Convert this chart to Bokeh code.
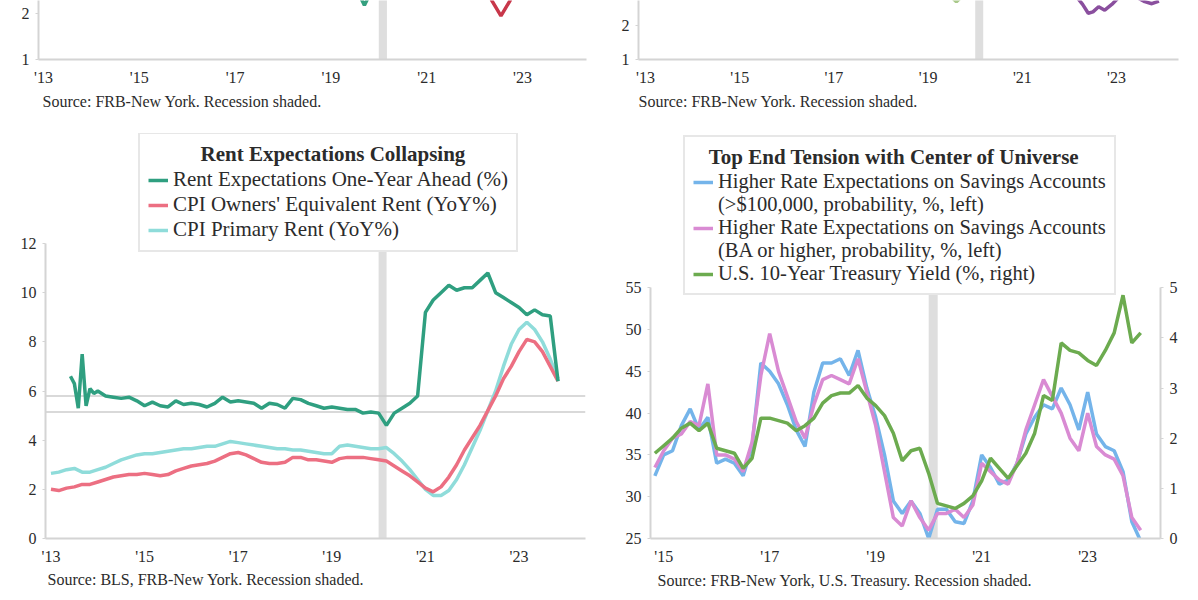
import numpy as np
from bokeh.plotting import figure
from bokeh.models import Range1d, FixedTicker, LinearAxis, Legend, LegendItem, Title
from bokeh.layouts import column, row
from bokeh.embed import file_html
from bokeh.resources import INLINE

FONT = "Liberation Serif"
TXT = "#2b2b2b"
AXC = "#d4d4d4"
REC = "#dedede"
NB = "\u00a0"

# ---------------- shared axis data ----------------
year_ticks = [2013, 2015, 2017, 2019, 2021, 2023]
year_labels = ["'13", "'15", "'17", "'19", "'21", "'23"]
br_year_ticks = [2015, 2017, 2019, 2021, 2023]
br_year_labels = ["'15", "'17", "'19", "'21", "'23"]
recession_start = [2020.0]
recession_end = [2020.17]

# ---------------- top-left (cut off panel) ----------------
tl_red_x = [2022.25, 2022.36, 2022.55, 2022.74, 2022.85]
tl_red_y = [2.60, 2.28, 1.95, 2.28, 2.60]
tl_green_x = [2019.55, 2019.70, 2019.85]
tl_green_y = [2.50, 2.18, 2.50]
tl_y_ticks = [1, 2]

# ---------------- top-right (cut off panel) ----------------
tr_purple_x = [2021.95, 2022.15, 2022.28, 2022.40, 2022.50, 2022.62, 2022.75, 2022.90,
               2023.10, 2023.40, 2023.60, 2023.75, 2023.90]
tr_purple_y = [3.00, 2.85, 2.62, 2.36, 2.40, 2.55, 2.45, 2.62,
               2.90, 2.85, 2.70, 2.64, 2.72]
tr_green_x = [2019.45, 2019.60, 2019.75]
tr_green_y = [2.90, 2.70, 2.90]
tr_y_ticks = [1, 2]

# ---------------- bottom-left: Rent Expectations Collapsing ----------------
cpi_dates = 2013 + np.arange(66) / 6.0
cpi_oer = [2.0, 1.95, 2.05, 2.1, 2.2, 2.2,
           2.3, 2.4, 2.5, 2.55, 2.6, 2.6,
           2.65, 2.6, 2.55, 2.6, 2.75, 2.85,
           2.95, 3.0, 3.05, 3.15, 3.3, 3.45,
           3.5, 3.4, 3.25, 3.1, 3.05, 3.05,
           3.1, 3.3, 3.3, 3.2, 3.2, 3.15,
           3.1, 3.25, 3.3, 3.3, 3.3, 3.25,
           3.2, 3.15, 2.95, 2.75, 2.55, 2.3,
           2.05, 1.9, 2.1, 2.5, 3.0, 3.6,
           4.1, 4.6, 5.2, 5.8, 6.5, 7.0,
           7.6, 8.1, 8.0, 7.6, 7.0, 6.4]
cpi_primary_rent = [2.65, 2.7, 2.8, 2.85, 2.7, 2.7,
                    2.8, 2.9, 3.05, 3.2, 3.3, 3.4,
                    3.45, 3.45, 3.5, 3.55, 3.6, 3.65,
                    3.65, 3.7, 3.75, 3.75, 3.85, 3.95,
                    3.9, 3.85, 3.8, 3.75, 3.7, 3.65,
                    3.65, 3.6, 3.6, 3.55, 3.5, 3.45,
                    3.45, 3.75, 3.8, 3.75, 3.7, 3.65,
                    3.65, 3.7, 3.45, 3.15, 2.8, 2.4,
                    2.0, 1.75, 1.75, 1.95, 2.4, 3.0,
                    3.7, 4.4, 5.2, 6.0, 7.0, 7.9,
                    8.5, 8.8, 8.5, 8.0, 7.3, 6.5]
rent_exp_dates = np.concatenate([2013 + np.arange(5, 13) / 12.0,
                                 2014 + np.arange(1, 60) / 6.0])
rent_exp = [6.6, 6.3, 5.3, 7.5, 5.4, 6.1, 5.9, 6.0,
            5.8, 5.75, 5.7, 5.75, 5.6,
            5.4, 5.55, 5.4, 5.35, 5.6, 5.45,
            5.5, 5.45, 5.35, 5.5, 5.75, 5.55,
            5.6, 5.55, 5.5, 5.3, 5.5, 5.45,
            5.3, 5.7, 5.65, 5.5, 5.4, 5.3,
            5.35, 5.3, 5.25, 5.25, 5.1, 5.15,
            5.1, 4.6, 5.1, 5.3, 5.5, 5.8,
            9.2, 9.7, 10.0, 10.3, 10.1, 10.2,
            10.2, 10.5, 10.8, 10.0, 9.8, 9.6,
            9.4, 9.1, 9.3, 9.1, 9.05, 6.4]
rent_ref_levels = [5.8, 5.15]
bl_y_ticks = [0, 2, 4, 6, 8, 10, 12]

# ---------------- bottom-right: Top End Tension ----------------
br_dates = 2014 + 5 / 6.0 + np.arange(56) / 6.0
savings_100k = [32.5,
                35, 35.5, 38.5, 40.5, 38, 39.5,
                34, 34.5, 34, 32.5, 36, 46,
                45, 43.5, 41, 38, 36, 42.5,
                46, 46, 46.5, 44.5, 47.5, 43,
                39.5, 35, 29.5, 28, 29.5, 28,
                25, 28.5, 28.5, 27, 26.8, 29.5,
                35, 33.5, 31.5, 32, 34, 37.5,
                39.5, 41, 40.5, 43, 41, 38,
                42.5, 37.5, 36, 35.5, 33, 27,
                24.7]
savings_ba = [33.5,
              35.5, 37, 37.5, 39, 38.5, 43.5,
              35, 35, 34.5, 33, 36.5, 44.5,
              49.5, 45, 42, 39, 37, 41,
              44, 44.5, 44, 43.5, 46.5, 42.5,
              38.5, 33, 27.5, 26.5, 29.5, 27.5,
              26, 28, 28, 28.5, 27.5, 29,
              34, 33, 32, 31.5, 34, 38,
              41, 44, 42, 40, 37, 35.5,
              40, 36, 35, 34.5, 32.5, 27.5,
              26]
treasury_10y = [1.7,
                1.85, 2.0, 2.2, 2.3, 2.15, 2.3,
                1.8, 1.75, 1.7, 1.4, 1.6, 2.4,
                2.4, 2.35, 2.3, 2.15, 2.25, 2.4,
                2.7, 2.85, 2.9, 2.9, 3.05, 2.8,
                2.65, 2.45, 2.1, 1.55, 1.75, 1.8,
                1.3, 0.7, 0.65, 0.6, 0.7, 0.85,
                1.15, 1.6, 1.4, 1.2, 1.45, 1.7,
                2.1, 2.85, 2.75, 3.9, 3.75, 3.7,
                3.55, 3.45, 3.75, 4.1, 4.85, 3.9,
                4.1]
br_left_ticks = [25, 30, 35, 40, 45, 50, 55]
br_right_ticks = [0, 1, 2, 3, 4, 5]


def base_fig(width, height, xr, yr, borders):
    left, right, top, bottom = borders
    p = figure(width=width, height=height, x_range=Range1d(*xr), y_range=Range1d(*yr),
               output_backend="svg", toolbar_location=None,
               min_border_left=left, min_border_right=right,
               min_border_top=top, min_border_bottom=bottom)
    p.outline_line_color = None
    p.xgrid.visible = False
    p.ygrid.visible = False
    p.background_fill_color = "white"
    p.border_fill_color = "white"
    return p


def style_axis(ax, is_x):
    ax.axis_line_color = AXC
    ax.axis_line_width = 2
    ax.minor_tick_line_color = None
    ax.major_label_text_font = FONT
    ax.major_label_text_font_size = "16px"
    ax.major_label_text_color = TXT
    if is_x:
        ax.major_tick_line_color = None
        ax.major_tick_out = 0
        ax.major_tick_in = 0
        ax.major_label_standoff = 9
    else:
        ax.major_tick_line_color = AXC
        ax.major_tick_line_width = 1
        ax.major_tick_out = 3
        ax.major_tick_in = 0
        ax.major_label_standoff = 6


def source_title(p, offset, text, standoff=4):
    p.add_layout(Title(text=text, align="left", offset=offset, standoff=standoff,
                       text_font=FONT, text_font_size="16px", text_font_style="normal",
                       text_color=TXT), "below")


def make_legend(p, items, loc, title, label_size):
    lg = Legend(items=items, location=loc, title=title,
                label_text_font=FONT, label_text_font_size=label_size, label_text_color=TXT,
                title_text_font=FONT, title_text_font_size="21px", title_text_font_style="bold",
                title_text_color=TXT,
                glyph_width=20, glyph_height=20, label_standoff=5, padding=8, spacing=0,
                margin=0, title_standoff=0, border_line_color="#cfcfcf", border_line_width=2,
                background_fill_color="white", background_fill_alpha=1.0)
    p.add_layout(lg, "center")


# ---------------- top-left ----------------
tl = base_fig(600, 118, (2012.896, 2024.336), (1, 2.283), (38, 14, 0, 59))
tl.quad(left=recession_start, right=recession_end, bottom=0, top=100, color=REC, line_color=None)
tl.line(tl_green_x, tl_green_y, line_color="#34a07f", line_width=3.5)
tl.line(tl_red_x, tl_red_y, line_color="#c8374a", line_width=3.5)
style_axis(tl.xaxis[0], True)
style_axis(tl.yaxis[0], False)
tl.xaxis.ticker = FixedTicker(ticks=year_ticks)
tl.xaxis.major_label_overrides = dict(zip(year_ticks, year_labels))
tl.yaxis.ticker = FixedTicker(ticks=tl_y_ticks)
source_title(tl, 4, "Source: FRB-New York. Recession shaded.")

# ---------------- top-right ----------------
tr = base_fig(598, 118, (2012.851, 2024.316), (1, 2.735), (38, 20, 0, 59))
tr.quad(left=recession_start, right=recession_end, bottom=0, top=100, color=REC, line_color=None)
tr.line(tr_green_x, tr_green_y, line_color="#a9c98a", line_width=3.5)
tr.line(tr_purple_x, tr_purple_y, line_color="#8a4f9e", line_width=3.5)
style_axis(tr.xaxis[0], True)
style_axis(tr.yaxis[0], False)
tr.xaxis.ticker = FixedTicker(ticks=year_ticks)
tr.xaxis.major_label_overrides = dict(zip(year_ticks, year_labels))
tr.yaxis.ticker = FixedTicker(ticks=tr_y_ticks)
source_title(tr, 0, "Source: FRB-New York. Recession shaded.")

# ---------------- bottom-left ----------------
bl = base_fig(600, 482, (2012.883, 2024.42), (0, 16.475), (45, 15, 15, 62))
bl.quad(left=recession_start, right=recession_end, bottom=0, top=12, color=REC, line_color=None)
for lvl in rent_ref_levels:
    bl.line([2012.883, 2024.42], [lvl, lvl], line_color="#cdcdcd", line_width=1.5)
r_prim = bl.line(cpi_dates, cpi_primary_rent, line_color="#8fdcda", line_width=3.5)
r_oer = bl.line(cpi_dates, cpi_oer, line_color="#ec6f82", line_width=3.5)
r_rent = bl.line(rent_exp_dates, rent_exp, line_color="#2f9f80", line_width=3.5)
style_axis(bl.xaxis[0], True)
style_axis(bl.yaxis[0], False)
bl.xaxis.ticker = FixedTicker(ticks=year_ticks)
bl.xaxis.major_label_overrides = dict(zip(year_ticks, year_labels))
bl.yaxis.ticker = FixedTicker(ticks=bl_y_ticks)
bl.yaxis.bounds = (0, 12)
make_legend(bl, [LegendItem(label="Rent Expectations One-Year Ahead (%)", renderers=[r_rent]),
                 LegendItem(label="CPI Owners' Equivalent Rent (YoY%)", renderers=[r_oer]),
                 LegendItem(label="CPI Primary Rent (YoY%)", renderers=[r_prim])],
            (93, 286), NB * 10 + "Rent Expectations Collapsing", "21px")
source_title(bl, 2, "Source: BLS, FRB-New York. Recession shaded.", standoff=2)

# ---------------- bottom-right ----------------
br = base_fig(598, 482, (2014.751, 2024.374), (25, 73.45), (50, 38, 15, 60))
br.extra_y_ranges = {"yld": Range1d(0, 8.075)}
br.quad(left=recession_start, right=recession_end, bottom=25, top=55, color=REC, line_color=None)
r_100k = br.line(br_dates, savings_100k, line_color="#74b4ea", line_width=3.5)
r_ba = br.line(br_dates, savings_ba, line_color="#d98bd3", line_width=3.5)
r_10y = br.line(br_dates, treasury_10y, line_color="#6cab4f", line_width=3.5, y_range_name="yld")
spacer1 = br.line([], [], line_alpha=0)
spacer2 = br.line([], [], line_alpha=0)
style_axis(br.xaxis[0], True)
style_axis(br.yaxis[0], False)
br.xaxis.ticker = FixedTicker(ticks=br_year_ticks)
br.xaxis.major_label_overrides = dict(zip(br_year_ticks, br_year_labels))
br.yaxis.ticker = FixedTicker(ticks=br_left_ticks)
br.yaxis.bounds = (25, 55)
rax = LinearAxis(y_range_name="yld", ticker=FixedTicker(ticks=br_right_ticks), bounds=(0, 5))
style_axis(rax, False)
br.add_layout(rax, "right")
make_legend(br, [LegendItem(label="Higher Rate Expectations on Savings Accounts", renderers=[r_100k]),
                 LegendItem(label="(>$100,000, probability, %, left)", renderers=[spacer1]),
                 LegendItem(label="Higher Rate Expectations on Savings Accounts", renderers=[r_ba]),
                 LegendItem(label="(BA or higher, probability, %, left)", renderers=[spacer2]),
                 LegendItem(label="U.S. 10-Year Treasury Yield (%, right)", renderers=[r_10y])],
            (33, 243), NB * 3 + "Top End Tension with Center of Universe", "20.5px")
source_title(br, 7, "Source: FRB-New York, U.S. Treasury. Recession shaded.")

layout = column(row(tl, tr), row(bl, br))
open("out.html", "w").write(file_html(layout, INLINE))
